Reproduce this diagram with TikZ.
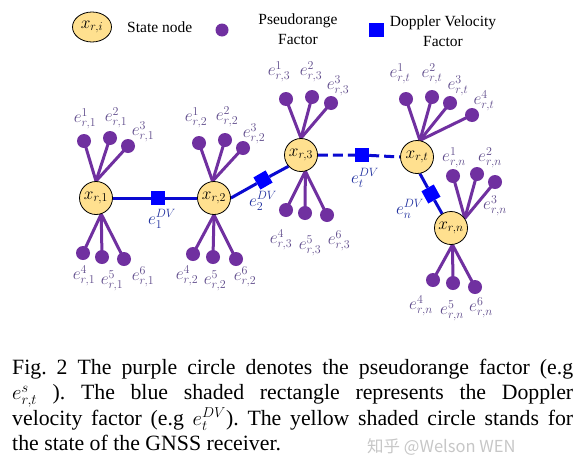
\documentclass[tikz,border=0pt]{standalone}
\usepackage{fontspec}
\setmainfont{Liberation Serif}
\newfontfamily\cjkfont{Noto Sans CJK SC}
\usetikzlibrary{backgrounds,shapes.geometric}
\definecolor{pdot}{HTML}{7030A0}
\definecolor{plab}{HTML}{5F4B8B}
\definecolor{dvblue}{HTML}{0000FF}
\definecolor{dvline}{HTML}{0A0AD0}
\definecolor{dvlab}{HTML}{1F2F9F}
\definecolor{statefill}{HTML}{FFE08F}
\begin{document}
\begin{tikzpicture}[x=1pt,y=-1pt,
  state/.style={circle,draw=black,line width=0.8pt,fill=statefill,minimum size=33pt,inner sep=0pt,font=\fontsize{18}{18}\selectfont},
  pr/.style={circle,fill=pdot,minimum size=14pt,inner sep=0pt},
  prline/.style={pdot,line width=3pt},
  dvbox/.style={fill=dvblue,minimum size=14pt,inner sep=0pt},
  dvl/.style={dvline,line width=3pt},
  plabel/.style={text=plab,font=\fontsize{18}{18}\selectfont,inner sep=0pt},
  dvlabel/.style={text=dvlab,font=\fontsize{18.5}{18.5}\selectfont,inner sep=0pt},
  leg/.style={font=\fontsize{15.5}{20}\selectfont,align=center,inner sep=0pt}]
\useasboundingbox (0,0) rectangle (585,466);

% legend
\node[ellipse,draw=black,line width=0.8pt,fill=statefill,minimum width=39pt,minimum height=30pt,inner sep=0pt,font=\fontsize{18}{18}\selectfont] (legstate) at (92,27) {$x_{r,i}$};
\node[leg,anchor=west] (legstatetxt) at (127,27) {State node};
\node[circle,fill=pdot,minimum size=13pt,inner sep=0pt] (legdot) at (222,30) {};
\node[leg] (legdottxt) at (298,29) {Pseudorange\\Factor};
\node[fill=dvblue,minimum width=15pt,minimum height=14pt,inner sep=0pt] (legbox) at (376,30) {};
\node[leg] (legboxtxt) at (443,31) {Doppler Velocity\\Factor};

% state nodes
\node[state] (s1) at (96,198) {$x_{r,1}$};
\node[state] (s2) at (214,198) {$x_{r,2}$};
\node[state] (s3) at (301,155) {$x_{r,3}$};
\node[state] (st) at (417,157) {$x_{r,t}$};
\node[state] (sn) at (451,228) {$x_{r,n}$};

% doppler factors
\node[dvbox] (d1) at (158,198) {};
\node[dvbox,rotate=30] (d2) at (263,180) {};
\node[dvbox] (dt) at (362,155) {};
\node[dvbox,rotate=-61] (dn) at (431,194) {};

% pseudorange dots
\node[pr] (p11) at (84,141) {};
\node[pr] (p12) at (110,138) {};
\node[pr] (p13) at (128,146) {};
\node[pr] (p14) at (83,253) {};
\node[pr] (p15) at (102,257) {};
\node[pr] (p16) at (124,259) {};
\node[pr] (p21) at (199,143) {};
\node[pr] (p22) at (225,140) {};
\node[pr] (p23) at (243,148) {};
\node[pr] (p24) at (193,254) {};
\node[pr] (p25) at (213,257) {};
\node[pr] (p26) at (236,259) {};
\node[pr] (p31) at (286,99) {};
\node[pr] (p32) at (312,97) {};
\node[pr] (p33) at (331,103) {};
\node[pr] (p34) at (286,210) {};
\node[pr] (p35) at (305,213) {};
\node[pr] (p36) at (327,215) {};
\node[pr] (pt1) at (406,99) {};
\node[pr] (pt2) at (432,97) {};
\node[pr] (pt3) at (450,103) {};
\node[pr] (pt4) at (472,115) {};
\node[pr] (pn1) at (453,176) {};
\node[pr] (pn2) at (477,174) {};
\node[pr] (pn3) at (495,182) {};
\node[pr] (pn4) at (433,280) {};
\node[pr] (pn5) at (453,283) {};
\node[pr] (pn6) at (475,287) {};

\begin{pgfonlayer}{background}
  \fill[white] (0,0) rectangle (585,466);
  \draw[dvl] (s1) -- (d1) -- (s2);
  \draw[dvl] (s2.east) -- (d2) -- (s3.222);
  \draw[dvl,dash pattern=on 10pt off 5pt] (s3.east) -- (dt) -- (st.west);
  \draw[dvl] (st.-80) -- (dn) -- (sn.122);
  \foreach \p in {p11,p12,p13} \draw[prline] (s1.north) -- (\p.center);
  \foreach \p in {p14,p15,p16} \draw[prline] (s1.-72) -- (\p.center);
  \foreach \p in {p21,p22,p23} \draw[prline] (s2.95) -- (\p.center);
  \foreach \p in {p24,p25,p26} \draw[prline] (s2.south) -- (\p.center);
  \foreach \p in {p31,p32,p33} \draw[prline] (s3.north) -- (\p.center);
  \foreach \p in {p34,p35,p36} \draw[prline] (s3.-75) -- (\p.center);
  \foreach \p in {pt1,pt2,pt3,pt4} \draw[prline] (st.80) -- (\p.center);
  \foreach \p in {pn1,pn2,pn3} \draw[prline] (sn.35) -- (\p.center);
  \foreach \p in {pn4,pn5,pn6} \draw[prline] (sn.-85) -- (\p.center);
\end{pgfonlayer}

% pseudorange labels
\node[plabel] (l11) at (85,119) {$e^{1}_{r,1}$};
\node[plabel] (l12) at (116,118) {$e^{2}_{r,1}$};
\node[plabel] (l13) at (143,132) {$e^{3}_{r,1}$};
\node[plabel] (l14) at (84,276) {$e^{4}_{r,1}$};
\node[plabel] (l15) at (112,281) {$e^{5}_{r,1}$};
\node[plabel] (l16) at (143,277) {$e^{6}_{r,1}$};
\node[plabel] (l21) at (196,118) {$e^{1}_{r,2}$};
\node[plabel] (l22) at (227,117) {$e^{2}_{r,2}$};
\node[plabel] (l23) at (254,134) {$e^{3}_{r,2}$};
\node[plabel] (l24) at (187,276) {$e^{4}_{r,2}$};
\node[plabel] (l25) at (215,281) {$e^{5}_{r,2}$};
\node[plabel] (l26) at (245,277) {$e^{6}_{r,2}$};
\node[plabel] (l31) at (279,72) {$e^{1}_{r,3}$};
\node[plabel] (l32) at (311,72) {$e^{2}_{r,3}$};
\node[plabel] (l33) at (338,86) {$e^{3}_{r,3}$};
\node[plabel] (l34) at (281,240) {$e^{4}_{r,3}$};
\node[plabel] (l35) at (310,246) {$e^{5}_{r,3}$};
\node[plabel] (l36) at (339,241) {$e^{6}_{r,3}$};
\node[plabel] (lt1) at (400,74) {$e^{1}_{r,t}$};
\node[plabel] (lt2) at (432,74) {$e^{2}_{r,t}$};
\node[plabel] (lt3) at (458,86) {$e^{3}_{r,t}$};
\node[plabel] (lt4) at (484,101) {$e^{4}_{r,t}$};
\node[plabel] (ln1) at (454,158) {$e^{1}_{r,n}$};
\node[plabel] (ln2) at (490,158) {$e^{2}_{r,n}$};
\node[plabel] (ln3) at (495,206) {$e^{3}_{r,n}$};
\node[plabel] (ln4) at (421,306) {$e^{4}_{r,n}$};
\node[plabel] (ln5) at (452,311) {$e^{5}_{r,n}$};
\node[plabel] (ln6) at (481,308) {$e^{6}_{r,n}$};

% doppler labels
\node[dvlabel] (ld1) at (162,219) {$e^{DV}_{1}$};
\node[dvlabel] (ld2) at (263,201) {$e^{DV}_{2}$};
\node[dvlabel] (ldt) at (365,178) {$e^{DV}_{t}$};
\node[dvlabel] (ldn) at (410,209) {$e^{DV}_{n}$};

% caption
\node[anchor=north west,inner sep=0pt,text width=561pt,align=justify,font=\fontsize{21.8}{25.3}\selectfont\frenchspacing] (cap) at (12,359)
{Fig. 2 The purple circle denotes the pseudorange factor (e.g\linebreak $e^{s}_{r,t}$ ). The blue shaded rectangle represents the Doppler\linebreak velocity factor (e.g $e^{DV}_{t}$). The yellow shaded circle stands for\linebreak the state of the GNSS receiver.};

% watermark
\node[anchor=base west,inner sep=0pt,text=black!22,font=\cjkfont\fontsize{16.5}{16.5}\selectfont] (wm) at (367,452) {知乎 @Welson WEN};
\end{tikzpicture}
\end{document}
